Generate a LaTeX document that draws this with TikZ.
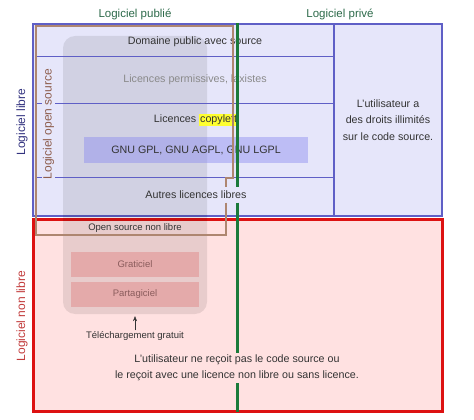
\documentclass[tikz,border=0pt]{standalone}
\usepackage{fontspec}
\setmainfont{Liberation Sans}
\usetikzlibrary{arrows.meta}

\definecolor{libreblue}{HTML}{5F5FC6}
\definecolor{librefill}{HTML}{E6E6FA}
\definecolor{nonred}{HTML}{DD1111}
\definecolor{nonfill}{HTML}{FFE1E1}
\definecolor{pubgreen}{HTML}{1B7A3A}
\definecolor{titlegreen}{HTML}{2D6A4A}
\definecolor{libretext}{HTML}{33337F}
\definecolor{nontext}{HTML}{C23B3B}
\definecolor{osbrown}{HTML}{AE8670}
\definecolor{oslabel}{HTML}{8E5E4E}
\definecolor{gnublue}{HTML}{8C8CF0}
\definecolor{shareware}{HTML}{E4AAAA}
\definecolor{sharetext}{HTML}{8A5C5C}
\definecolor{textgrey}{HTML}{333333}
\definecolor{permgrey}{HTML}{8A8A8A}
\definecolor{hlyellow}{HTML}{FFFF30}

\begin{document}
\begin{tikzpicture}[x=1pt, y=-1pt,
        txt/.style={font=\fontsize{10.7}{16.5}\selectfont, text=textgrey, inner sep=2pt},
        smalltxt/.style={font=\fontsize{9.5}{12}\selectfont, text=textgrey, inner sep=1pt},
        coltitle/.style={font=\fontsize{11.5}{14}\selectfont, text=titlegreen},
        sidetitle/.style={font=\fontsize{12}{14}\selectfont, rotate=90},
        rowline/.style={draw=libreblue, line width=1pt},
        publine/.style={draw=pubgreen, line width=3pt},
        warebox/.style={fill=shareware, minimum width=128pt, minimum height=25pt,
            font=\fontsize{9.5}{12}\selectfont, text=sharetext}]
            \useasboundingbox (0,0) rectangle (474,420);
            \path [fill=librefill, draw=libreblue, line width=2.5pt] (33,24) rectangle (442,216);
            \path [fill=nonfill, draw=nonred, line width=3pt] (33,219.5) rectangle (442,411);
            \node [fill=black, fill opacity=0.09, rounded corners=12pt, minimum width=144pt, minimum height=278pt] (gratuit) at (135,175) {};
            \foreach \y in {57,103,177}
                \path [rowline] (36,\y) -- (334,\y);
            \path [draw=libreblue, line width=1.2pt] (334,24) -- (334,216);
            \node [txt, fill=gnublue, fill opacity=0.45, text opacity=1, minimum width=224pt, minimum height=26pt] (gnu) at (196,150) {GNU GPL, GNU AGPL, GNU LGPL};
            \node [warebox] (grat) at (135,264.5) {Graticiel};
            \node [warebox] (share) at (135,294.5) {Partagiciel};
            \node [coltitle] (pub) at (135,14) {Logiciel publié};
            \node [coltitle] (priv) at (340,14) {Logiciel privé};
            \node [sidetitle, text=libretext] (libre) at (22,122) {Logiciel libre};
            \node [sidetitle, text=nontext] (nonlibre) at (22,316) {Logiciel non libre};
            \node [txt] (domaine) at (195,42) {Domaine public avec source};
            \node [txt, text=permgrey] (permissive) at (195,80) {Licences permissives, laxistes};
            \node [txt] (copyleft) at (196,120) {Licences {\fboxsep=1pt\colorbox{hlyellow}{copyleft}}};
            \node [txt, minimum height=15pt] (autres) at (196,195) {Autres licences libres};
            \node [txt, align=center] (droits) at (388,120) {L'utilisateur a\\des droits illimités\\sur le code source.};
            \node [smalltxt] (osnon) at (135,228) {Open source non libre};
            \node [smalltxt] (telech) at (135,336) {Téléchargement gratuit};
            \node [txt, align=center] (user) at (237,368) {L'utilisateur ne reçoit pas le code source ou\\le reçoit avec une licence non libre ou sans licence.};
            \coordinate (osbl) at (36,235);
            \coordinate (ostl) at (36,26);
            \coordinate (ostr) at (233,26);
            \coordinate (osstep) at (233,178);
            \coordinate (osr) at (226,235);
            \path [draw=osbrown, line width=2.5pt] (osr |- autres.south) -- (osr) -- (osbl) -- (ostl) -- (ostr) -- (osstep) -- (osr |- osstep) -- (osr |- autres.north);
            \node [sidetitle, fill=librefill, text=oslabel, inner xsep=8pt, inner ysep=0.5pt] (oslabel) at (48.5,124) {Logiciel open source};
            \path (telech) edge [draw, -{Stealth[length=5pt, width=4pt]}, shorten >=2pt, textgrey] (gratuit);
            \coordinate (pubtop) at (237.5,23);
            \coordinate (pubbot) at (237.5,412);
            \path [publine] (pubtop) -- (pubtop |- autres.north);
            \path [publine] (pubtop |- autres.south) -- (pubtop |- user.north);
            \path [publine] (pubtop |- user.south) -- (pubbot);
        \end{tikzpicture}
\end{document}
